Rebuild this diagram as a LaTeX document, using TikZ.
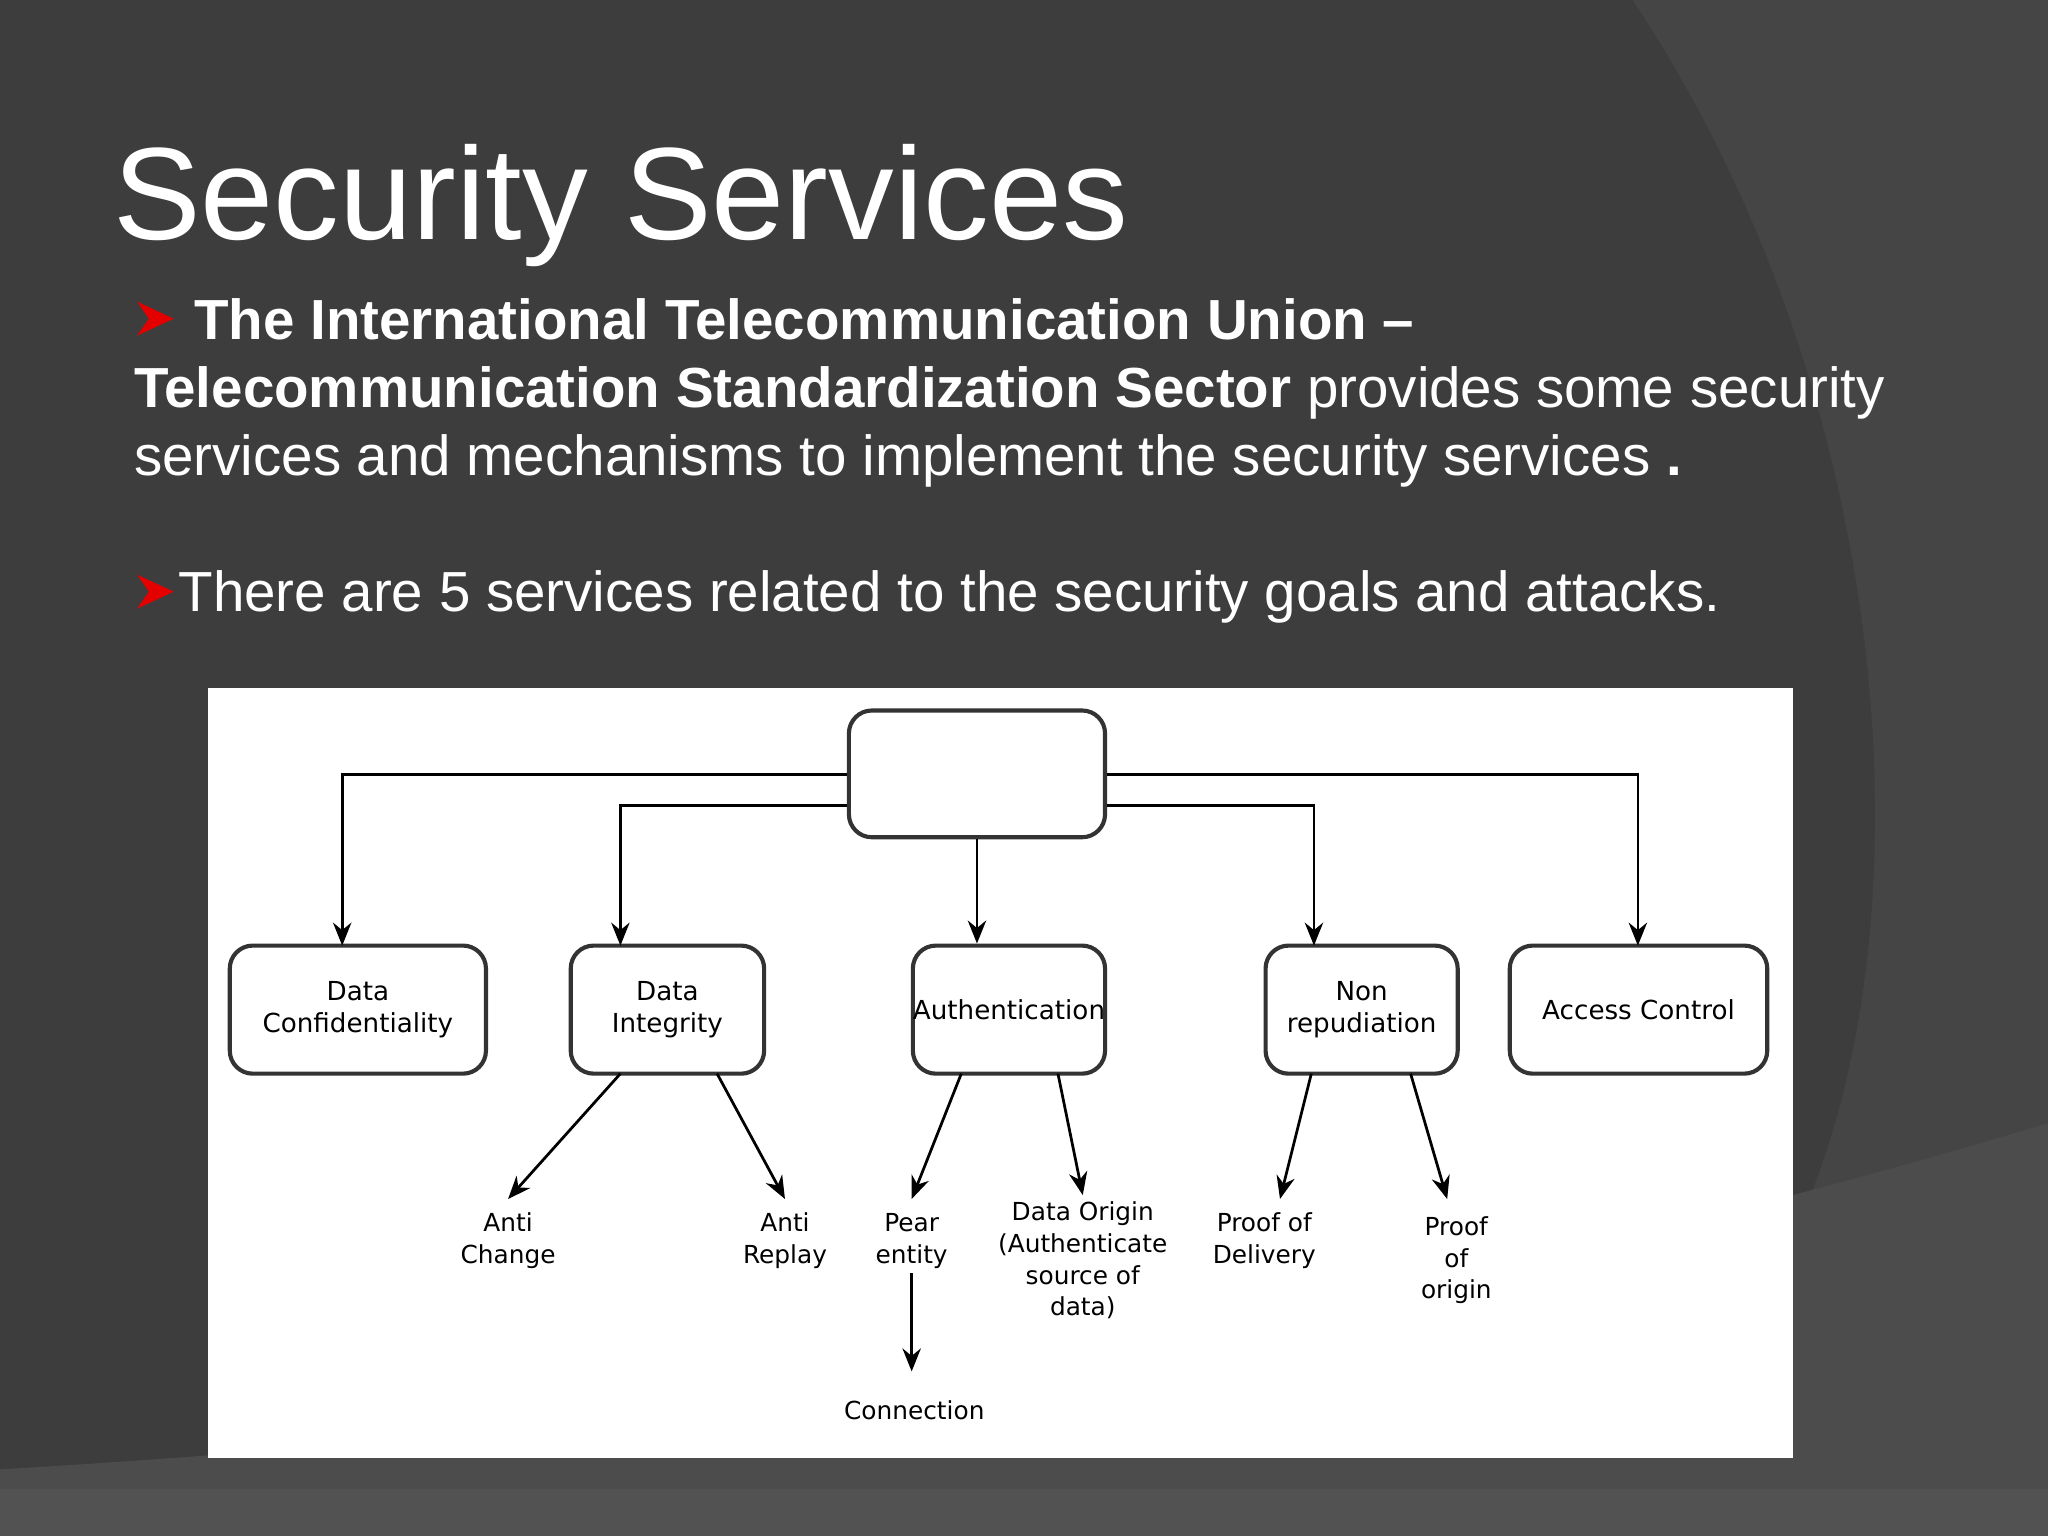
\documentclass[tikz,border=0pt]{standalone}
\usepackage{fontspec}
\setmainfont{Liberation Sans}
\newfontfamily\djfont{DejaVu Sans}
\usetikzlibrary{arrows.meta}
\begin{document}
\begin{tikzpicture}[x=0.01cm,y=-0.01cm,
  box/.style={draw=black!80,line width=0.9pt,rounded corners=5pt,fill=white,align=center,font=\djfont\fontsize{5.7}{7}\selectfont,inner sep=0pt},
  lbl/.style={align=center,font=\djfont\fontsize{5.4}{6.9}\selectfont,inner sep=1pt},
  arr/.style={-{Stealth[length=5pt,width=4pt]},line width=0.6pt},
  bl/.style={font=\fontsize{12.3}{15}\selectfont,text=white,anchor=base west,inner sep=0pt}]
\useasboundingbox (0,0) rectangle (1568,1176);
\fill[black!76] (0,0) rectangle (1568,1176);
\begin{scope}
\clip (0,0) rectangle (1568,1176);
\fill[black!73] (1250,0) .. controls (1450,300) and (1480,700) .. (1380,930) -- (1568,870) -- (1568,0) -- cycle;
\fill[black!70] (0,1125) .. controls (600,1090) and (1100,1000) .. (1568,860) -- (1568,1176) -- (0,1176) -- cycle;
\fill[black!68] (0,1140) -- (1568,1140) -- (1568,1176) -- (0,1176) -- cycle;
\end{scope}
\node[font=\fontsize{28.6}{34}\selectfont,text=white,anchor=base west,inner sep=0pt] (t) at (86,183) {Security Services};
\fill[red!90!black] (105,231) -- (133,244) -- (105,257) -- (114,244) -- cycle;
\fill[red!90!black] (105,440) -- (133,453) -- (105,466) -- (114,453) -- cycle;
\node[bl] (l1) at (148,260) {\textbf{The International Telecommunication Union –}};
\node[bl] (l2) at (102,312) {\textbf{Telecommunication Standardization Sector} provides some security};
\node[bl] (l3) at (102,364) {services and mechanisms to implement the security services \textbf{.}};
\node[bl] (l4) at (136,468) {There are 5 services related to the security goals and attacks.};
\fill[white] (159,527) rectangle (1373,1116);
\node[box,minimum width=1.96cm,minimum height=0.97cm] (top) at (748,592.5) {};
\node[box,minimum width=1.96cm,minimum height=0.98cm] (dc) at (274,773) {Data\\Confidentiality};
\node[box,minimum width=1.48cm,minimum height=0.98cm] (di) at (511,773) {Data\\Integrity};
\node[box,minimum width=1.47cm,minimum height=0.98cm] (au) at (772.5,773) {Authentication};
\node[box,minimum width=1.47cm,minimum height=0.98cm] (nr) at (1042.5,773) {Non\\repudiation};
\node[box,minimum width=1.97cm,minimum height=0.98cm] (ac) at (1254.5,773) {Access Control};
\draw[arr] (top.west|-0,593) -| (262,724);
\draw[arr] (top.west|-0,617) -| (475,724);
\draw[arr] (top.south) -- (top.south|-au.north);
\draw[arr] (top.east|-0,617) -| (1006,724);
\draw[arr] (top.east|-0,593) -| (1254,724);
\node[lbl] (a1) at (389,950) {Anti\\Change};
\node[lbl] (a2) at (601,950) {Anti\\Replay};
\node[lbl] (p1) at (698,950) {Pear\\entity};
\node[lbl] (p2) at (829,965) {Data Origin\\(Authenticate\\source of\\data)};
\node[lbl] (n1) at (968,950) {Proof of\\Delivery};
\node[lbl] (n2) at (1115,965) {Proof\\of\\origin};
\node[lbl] (cn) at (700,1080) {Connection};
\coordinate (c1) at (698,975);
\draw[arr] (475,822) -- (389,918);
\draw[arr] (549,822) -- (601,918);
\draw[arr] (736,822) -- (698,918);
\draw[arr] (810,822) -- (829,915);
\draw[arr] (1004,822) -- (980,918);
\draw[arr] (1080,822) -- (1108,918);
\draw[arr] (c1) -- (698,1050);
\end{tikzpicture}
\end{document}
